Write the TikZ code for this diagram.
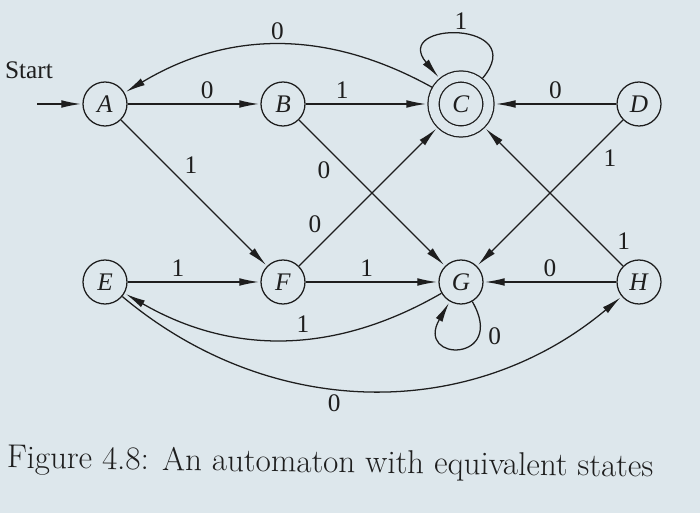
\documentclass[tikz,border=0pt]{standalone}
\usepackage{fontspec}
\usetikzlibrary{automata, positioning, arrows.meta}
\newfontfamily\timesfont{Liberation Serif}
\definecolor{paper}{RGB}{221,231,236}
\definecolor{ink}{RGB}{30,30,30}

\begin{document}
\begin{tikzpicture}[>={Latex[length=14pt,width=5.5pt]}, shorten >=1pt, line width=0.9pt,
    color=ink, node distance=4.45cm, on grid, auto,
    font=\timesfont\fontsize{18}{21}\selectfont,
    every state/.style={minimum size=1.1cm, inner sep=0pt, line width=0.9pt},
    final/.style={state, double=paper, double distance=7pt, minimum size=1.375cm, outer sep=4.3pt}]
  \fill[paper] (0,0) rectangle (17.5,12.825);
  \useasboundingbox (0,0) rectangle (17.5,12.825);

  \node[state] (A) at (2.625,10.225) {\textit{A}};
  \node[state] (B) [right=of A] {\textit{B}};
  \node[final] (C) [right=of B] {\textit{C}};
  \node[state] (D) [right=of C] {\textit{D}};
  \node[state] (E) [below=of A] {\textit{E}};
  \node[state] (F) [right=of E] {\textit{F}};
  \node[state] (G) [right=of F] {\textit{G}};
  \node[state] (H) [right=of G] {\textit{H}};

  \coordinate[left=1.7cm of A] (start);
  \node[above=0.5cm of start, xshift=-0.2cm] (starttext) {Start};
  \draw[->] (start) -- (A);

    \path[->]
    (A) edge node[pos=0.6] {0} (B)
        (A) edge node[pos=0.4] {1} (F)
    (B) edge node[pos=0.3] {1} (C)
        (B) edge node[swap, pos=0.25] {0} (G)
    (C) edge[bend right=30] node[swap] {0} (A)
        (C) edge[out=50, in=130, looseness=4.5] node[above] {1} (C)
    (D) edge node[swap] {0} (C)
        (D) edge node[pos=0.17] {1} (G)
    (E) edge node[pos=0.38] {1} (F)
        (E) edge[bend right=40] node[swap, pos=0.45] {0} (H)
    (F) edge node[pos=0.2] {0} (C)
        (F) edge node[pos=0.46] {1} (G)
    (G) edge[bend left=30] node[swap, pos=0.4] {1} (E)
        (G) edge[out=-60, in=-120, looseness=8] node[pos=0.25, right=3pt] {0} (G)
    (H) edge node[swap, pos=0.08] {1} (C)
        (H) edge node[swap] {0} (G);

  \node[font=\rmfamily\fontsize{23.5}{27}\selectfont, rotate=-0.8, anchor=base] (caption)
    at (8.25,1.0125) {Figure 4.8: An automaton with equivalent states};
\end{tikzpicture}
\end{document}
